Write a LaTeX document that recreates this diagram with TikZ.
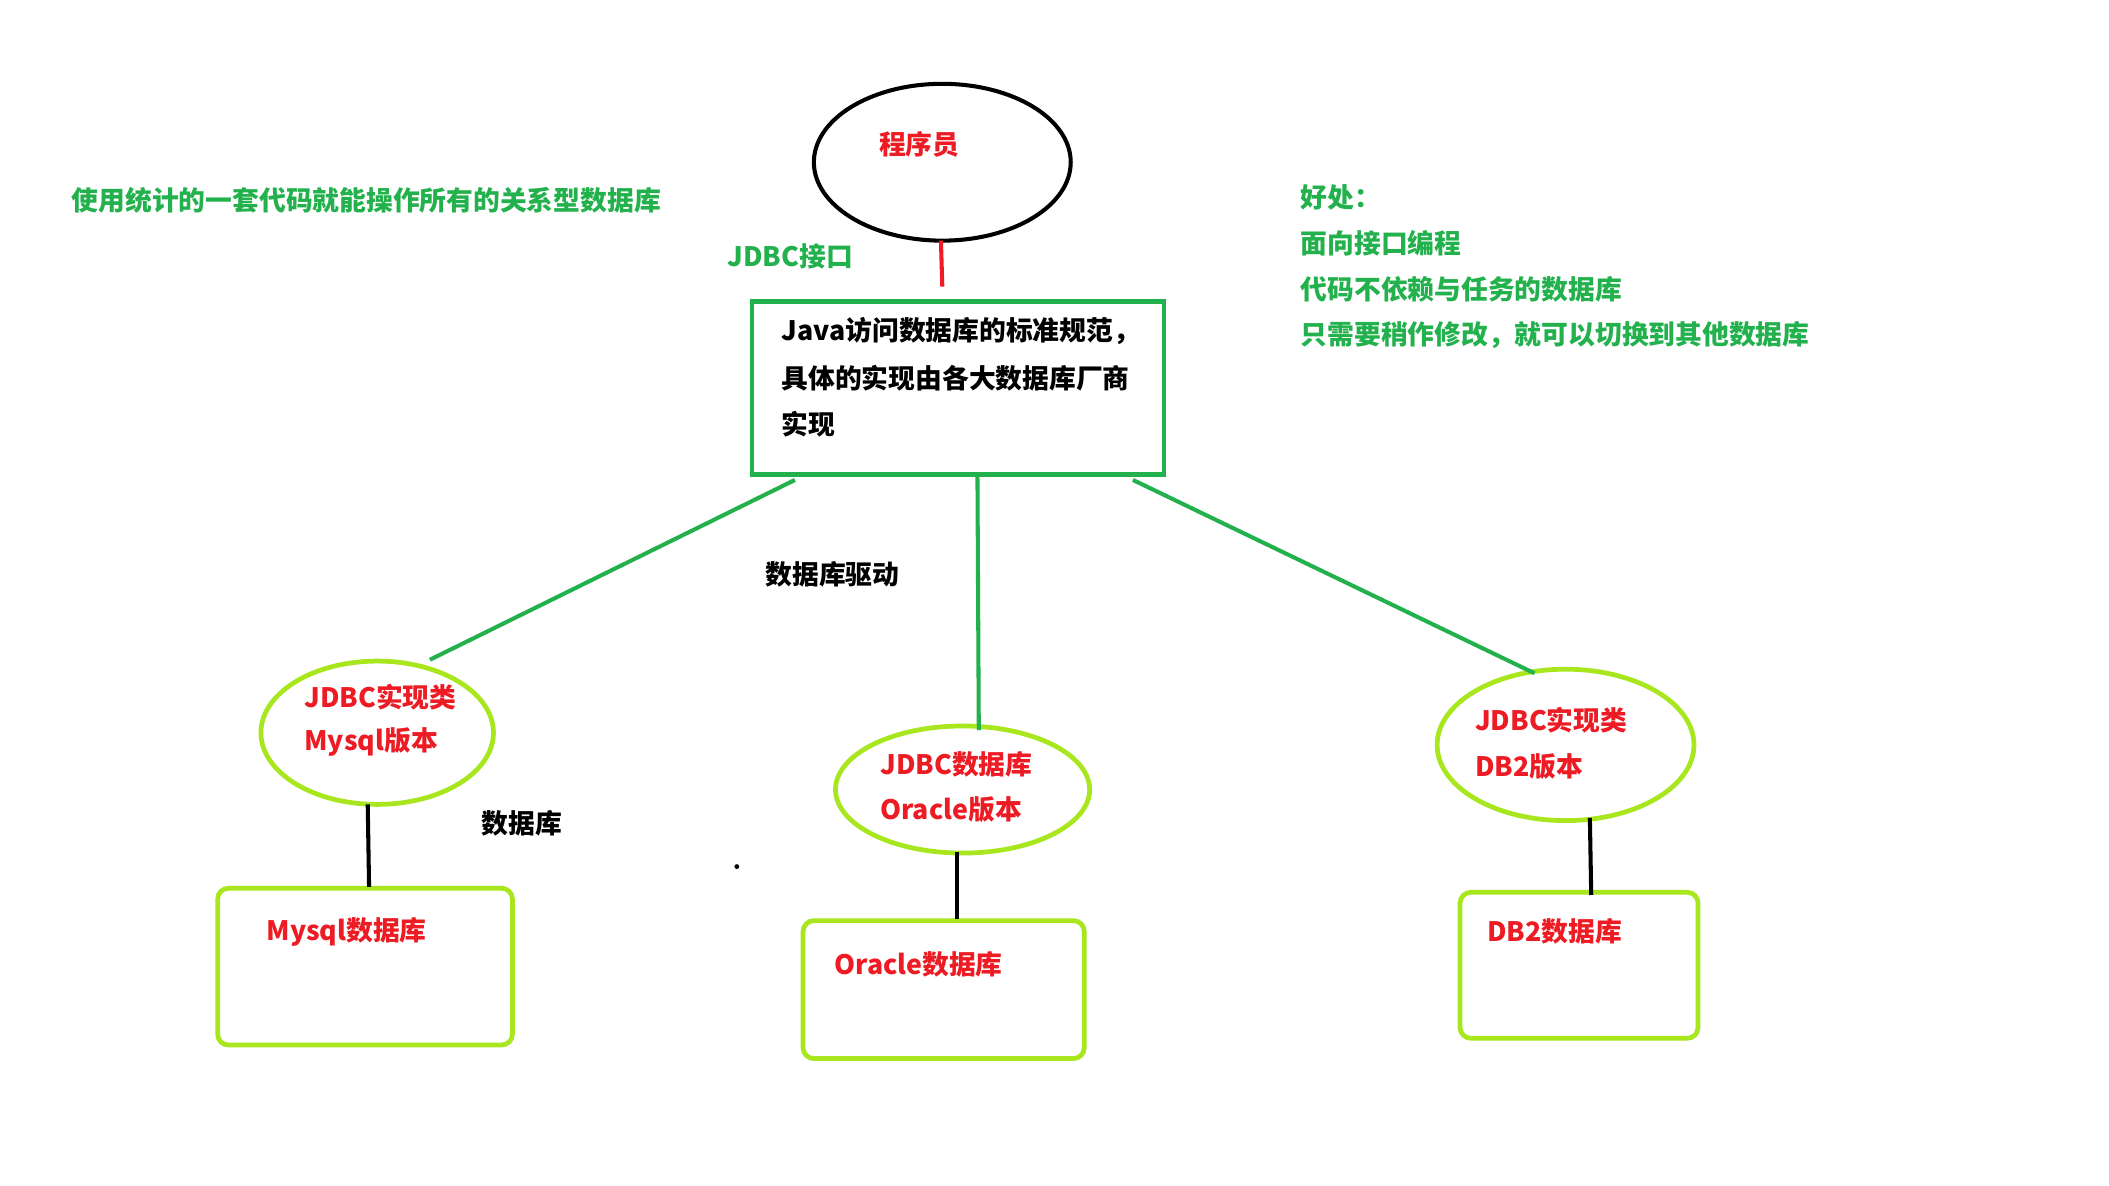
\documentclass[tikz,border=0pt]{standalone}
\usepackage{fontspec}
\setmainfont{Noto Sans CJK SC}
\usetikzlibrary{shapes.geometric}
\definecolor{tg}{HTML}{22B14C}
\definecolor{yg}{HTML}{A8E61D}
\definecolor{rd}{HTML}{ED1C24}
\tikzset{
 t/.style={font=\fontsize{19.8}{23}\selectfont\bfseries, inner sep=0pt, anchor=west},
 rt/.style={t, text=rd},
 gt/.style={t, text=tg},
 bt/.style={t, text=black},
 gl/.style={draw=tg, line width=3pt},
 yl/.style={draw=yg, line width=3.5pt},
 kl/.style={draw=black, line width=3pt},
}
\begin{document}
\begin{tikzpicture}[x=1pt,y=-1pt]
\useasboundingbox[fill=white] (0,0) rectangle (1560,877);
\node[ellipse, draw, line width=3pt, minimum width=190, minimum height=116] (p) at (697,120) {};
\node[rt] (pt) at (650,107) {程序员};
\node[gt] (l1) at (53,148) {使用统计的一套代码就能操作所有的关系型数据库};
\node[gt] (ji) at (538,190) {JDBC接口};
\coordinate (r1) at (696,178); \coordinate (r2) at (697,212);
\draw[draw=rd, line width=3pt] (r1) -- (r2);
\node[draw=tg, line width=3pt, minimum width=305, minimum height=128, inner sep=0pt] (box) at (708.5,287) {};
\node[bt] (b1) at (578,245) {Java访问数据库的标准规范，};
\node[bt] (b2) at (578,280) {具体的实现由各大数据库厂商};
\node[bt] (b3) at (578,314) {实现};
\node[gt] (h0) at (962,146) {好处：};
\node[gt] (h1) at (962,180) {面向接口编程};
\node[gt] (h2) at (962,214) {代码不依赖与任务的数据库};
\node[gt] (h3) at (962,248) {只需要稍作修改，就可以切换到其他数据库};
\node[bt] (dr) at (566,425) {数据库驱动};
\node[bt] (db) at (356,609) {数据库};
\node[ellipse, yl, minimum width=172, minimum height=106] (e1) at (279,542) {};
\node[ellipse, yl, minimum width=188, minimum height=94] (e2) at (712,584) {};
\node[ellipse, yl, minimum width=190, minimum height=112] (e3) at (1158,551) {};
\node[rt] at (225,516) {JDBC实现类};
\node[rt] at (225,549) {Mysql版本};
\node[rt] at (651,565) {JDBC数据库};
\node[rt] at (651,599) {Oracle版本};
\node[rt] at (1091,533) {JDBC实现类};
\node[rt] at (1091,567) {DB2版本};
\draw[gl] (588,355) -- (318,488);
\draw[gl] (723,352) -- (724,540);
\draw[gl] (838,355) -- (1135,498);
\node[yl, rounded corners=8pt, minimum width=218, minimum height=116, inner sep=0pt] (d1) at (270,715) {};
\node[yl, rounded corners=8pt, minimum width=208, minimum height=102, inner sep=0pt] (d2) at (698,732) {};
\node[yl, rounded corners=8pt, minimum width=176, minimum height=108, inner sep=0pt] (d3) at (1168,714) {};
\node[rt] at (197,689) {Mysql数据库};
\node[rt] at (617,713) {Oracle数据库};
\node[rt] at (1100,689) {DB2数据库};
\draw[kl] (272,595) -- (273,656);
\draw[kl] (708,630) -- (708,680);
\draw[kl] (1176,605) -- (1177,662);
\fill (545,641) circle (1.8);
\end{tikzpicture}
\end{document}
